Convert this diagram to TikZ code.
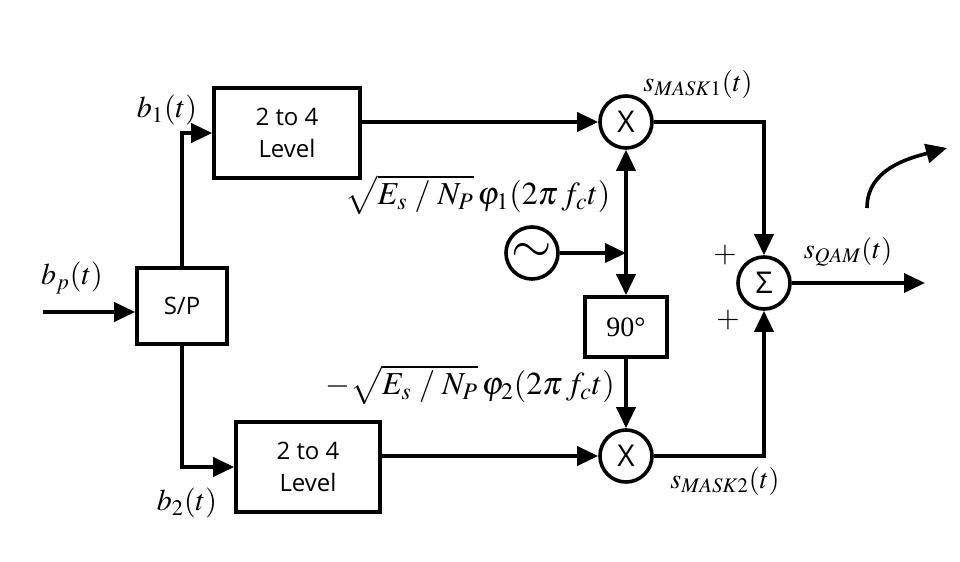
\documentclass[tikz,border=0pt]{standalone}
\usepackage{mathptmx}
\usepackage[no-math]{fontspec}
\newfontfamily\boxfont{Open Sans}
\newfontfamily\numfont{Liberation Serif}
\usetikzlibrary{arrows.meta}
\begin{document}
\begin{tikzpicture}[x=0.5pt,y=-0.5pt,
  line width=1.8pt,
  arr/.style={-{Triangle[length=10.5pt,width=9.5pt]}},
  blk/.style={draw, rectangle, line width=1.8pt, font=\boxfont\fontsize{12}{16}\selectfont, align=center, inner sep=0pt},
  circ/.style={draw, circle, minimum size=26pt, inner sep=0pt, line width=1.8pt, font=\boxfont\fontsize{15}{18}\selectfont},
  lbl/.style={font=\fontsize{15}{18}\selectfont, inner sep=0pt},
  slbl/.style={font=\fontsize{14}{17}\selectfont, inner sep=0pt},
  flbl/.style={font=\fontsize{16}{19}\selectfont, inner sep=0pt},
]
\path[use as bounding box] (0,0) rectangle (960,562);

% blocks
\node[blk, minimum width=45pt, minimum height=38pt] (sp) at (182,306) {S/P};
\node[blk, minimum width=73pt, minimum height=45pt] (lv1) at (287,133) {2 to 4\\Level};
\node[blk, minimum width=72pt, minimum height=45pt] (lv2) at (308,467) {2 to 4\\Level};
\node[blk, minimum width=41pt, minimum height=30pt, font=\numfont\fontsize{14}{16}\selectfont] (ph) at (626,327) {90°};
\node[circ] (m1) at (626,122) {X};
\node[circ] (m2) at (626,456) {X};
\node[circ] (sum) at (764,283) {Σ};
\node[circ, font=\fontsize{26}{26}\selectfont] (osc) at (532,253) {$\sim$};

% coordinates
\coordinate (in) at (43,312);
\coordinate (j) at (osc -| ph);
\coordinate (out) at (925,283);
\coordinate (c1) at (867,208);
\coordinate (c2) at (947,148);

% connectors
\draw[arr] (in) -- (in -| sp.west);
\draw[arr] (sp.north) |- (lv1.west);
\draw[arr] (sp.south) |- (lv2.west);
\draw[arr] (m1 -| lv1.east) -- (m1.west);
\draw[arr] (m2 -| lv2.east) -- (m2.west);
\draw[arr] (osc.east) -- (j);
\draw[arr] (j) -- (m1.south);
\draw[arr] (j) -- (ph.north);
\draw[arr] (ph.south) -- (m2.north);
\draw[arr] (m1.east) -| (sum.north);
\draw[arr] (m2.east) -| (sum.south);
\draw[arr] (sum.east) -- (out);
\draw[arr] (c1) to[out=90,in=195] (c2);

% labels
\node[lbl] (lbp) at (72,278) {$b_p(t)$};
\node[lbl] (lb1) at (167,110) {$b_1(t)$};
\node[lbl] (lb2) at (187,503) {$b_2(t)$};
\node[slbl] (ls1) at (698,84) {$s_{MASK1}(t)$};
\node[slbl] (lsq) at (848,252) {$s_{QAM}(t)$};
\node[slbl] (ls2) at (725,481) {$s_{MASK2}(t)$};
\node[lbl] (pl1) at (725,255) {$+$};
\node[lbl] (pl2) at (728,320) {$+$};
\node[flbl] (phi1) at (478,195) {$\sqrt{E_s\;/\;N_P}\,\varphi_1(2\pi\, f_c t)$};
\node[flbl] (phi2) at (470,385) {$-\sqrt{E_s\;/\;N_P}\,\varphi_2(2\pi\, f_c t)$};
\end{tikzpicture}
\end{document}
